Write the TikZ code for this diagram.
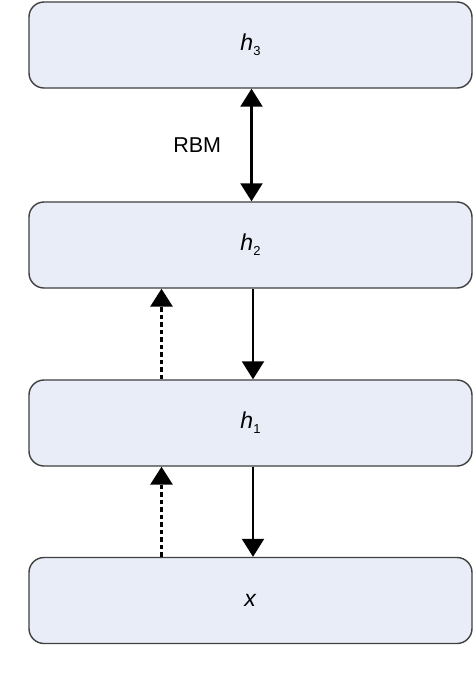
\documentclass[tikz,border=0pt]{standalone}
\usepackage{fontspec}
\setmainfont{Liberation Sans}
\usetikzlibrary{arrows.meta}
\newcommand{\lvl}[2]{\textit{#1}\raisebox{-5pt}{\fontsize{13}{13}\selectfont #2}}
\begin{document}
\begin{tikzpicture}[x=1pt,y=-1pt,
  layerbox/.style={draw=black!75, line width=1.4pt, fill=boxfill, rounded corners=15pt,
    minimum width=443pt, minimum height=86pt, inner sep=0pt, font=\fontsize{23}{26}\selectfont},
  conn/.style={line width=2.2pt, -{Triangle[width=22pt,length=18pt]}},
  biconn/.style={line width=2.2pt, {Triangle[width=22pt,length=18pt]}-{Triangle[width=22pt,length=18pt]}},
  dconn/.style={line width=3pt, dash pattern=on 4.5pt off 3pt, -{Triangle[width=22pt,length=18pt]}}
]
\definecolor{boxfill}{HTML}{E8EDF7}
\useasboundingbox[fill=white] (0,0) rectangle (474,673);
\node[layerbox] (h3) at (250.5,45) {\lvl{h}{3}};
\node[layerbox] (h2) at (250.5,245) {\lvl{h}{2}};
\node[layerbox] (h1) at (250.5,423) {\lvl{h}{1}};
\node[layerbox] (x) at (250.5,600.5) {\textit{x}};
\draw[biconn] ([xshift=1pt]h3.south) -- ([xshift=1pt]h2.north)
  node[midway, left=26pt, font=\fontsize{21.5}{24}\selectfont] (rbm) {RBM};
\draw[conn] ([xshift=2.5pt]h2.south) -- ([xshift=2.5pt]h1.north);
\draw[conn] ([xshift=2.5pt]h1.south) -- ([xshift=2.5pt]x.north);
\draw[dconn] ([xshift=-89pt]h1.north) -- ([xshift=-89pt]h2.south);
\draw[dconn] ([xshift=-89pt]x.north) -- ([xshift=-89pt]h1.south);
\end{tikzpicture}
\end{document}
